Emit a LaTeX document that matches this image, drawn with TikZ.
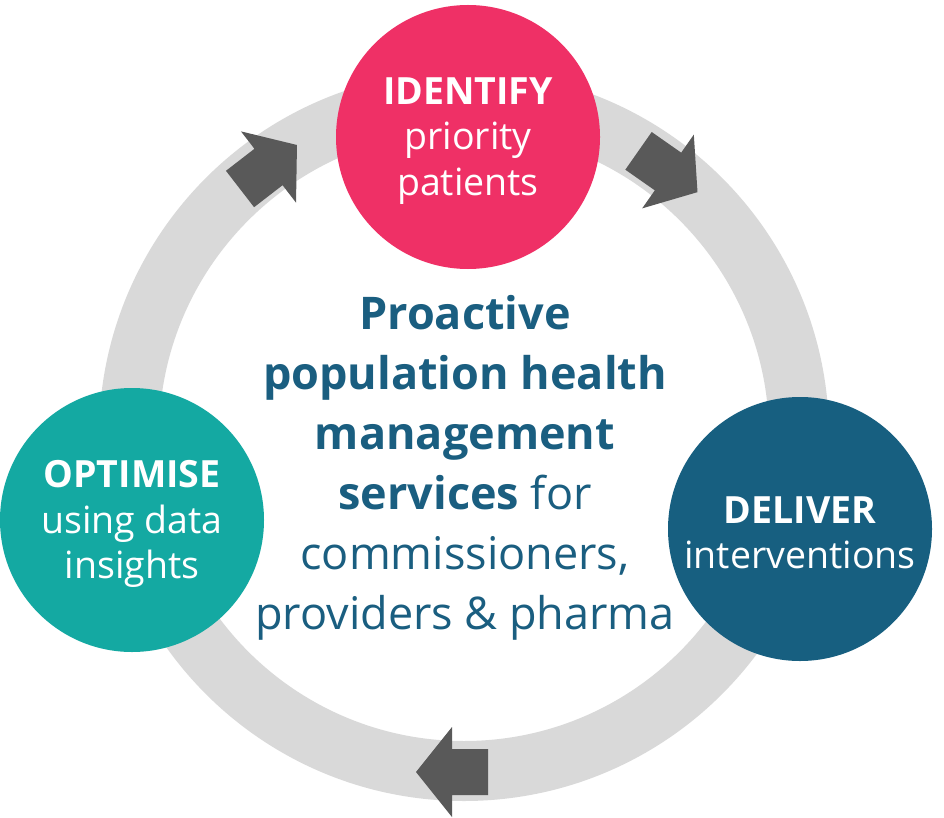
\documentclass[tikz,border=0pt]{standalone}
\usepackage{fontspec}
\setmainfont{Open Sans}
\definecolor{ringc}{HTML}{D9D9D9}
\definecolor{arrowc}{HTML}{595959}
\definecolor{pinkc}{HTML}{EF3066}
\definecolor{tealc}{HTML}{14A9A2}
\definecolor{bluec}{HTML}{175F80}
\definecolor{textc}{HTML}{1A5E80}
\tikzset{
  phase/.style={circle, inner sep=0pt, minimum size=264pt},
  phasetext/.style={text=white, align=center, inner sep=0pt, yshift=-4pt,
    font=\fontsize{37.5}{45.5}\selectfont},
  ringarrow/.style={fill=arrowc},
}
\begin{document}
\begin{tikzpicture}[x=1pt,y=-1pt]
\useasboundingbox[fill=white] (0,0) rectangle (944,818);
\coordinate (ctr) at (464,436);
\draw[ringc, line width=60pt] (ctr) circle[radius=335pt];
% arrows
\fill[ringarrow, shift={(268.5,167)}, rotate=37.7]
  (-36,-23) -- (0,-23) -- (0,-45) -- (36,0) -- (0,45) -- (0,23) -- (-36,23) -- cycle;
\fill[ringarrow, shift={(668,171.5)}, rotate=-35]
  (-36,-23) -- (0,-23) -- (0,-45) -- (36,0) -- (0,45) -- (0,23) -- (-36,23) -- cycle;
\fill[ringarrow, shift={(452,772)}, rotate=180]
  (-36,-23) -- (0,-23) -- (0,-45) -- (36,0) -- (0,45) -- (0,23) -- (-36,23) -- cycle;
% phases
\node[phase, fill=pinkc] (identify) at (468,137) {};
\node[phasetext] (identify-t) at (identify.center) {\textbf{IDENTIFY}\\priority\\patients};
\node[phase, fill=tealc] (optimise) at (132,520) {};
\node[phasetext] (optimise-t) at (optimise.center) {\textbf{OPTIMISE}\\using data\\insights};
\node[phase, fill=bluec] (deliver) at (800,529) {};
\node[phasetext] (deliver-t) at (deliver.center) {\textbf{DELIVER}\\interventions};
% centre
\node[text=textc, align=center, font=\fontsize{45}{60}\selectfont] (centre) at (465,468)
  {\textbf{Proactive}\\\textbf{population health}\\\textbf{management}\\\textbf{services} for\\commissioners,\\providers \& pharma};
\end{tikzpicture}
\end{document}
